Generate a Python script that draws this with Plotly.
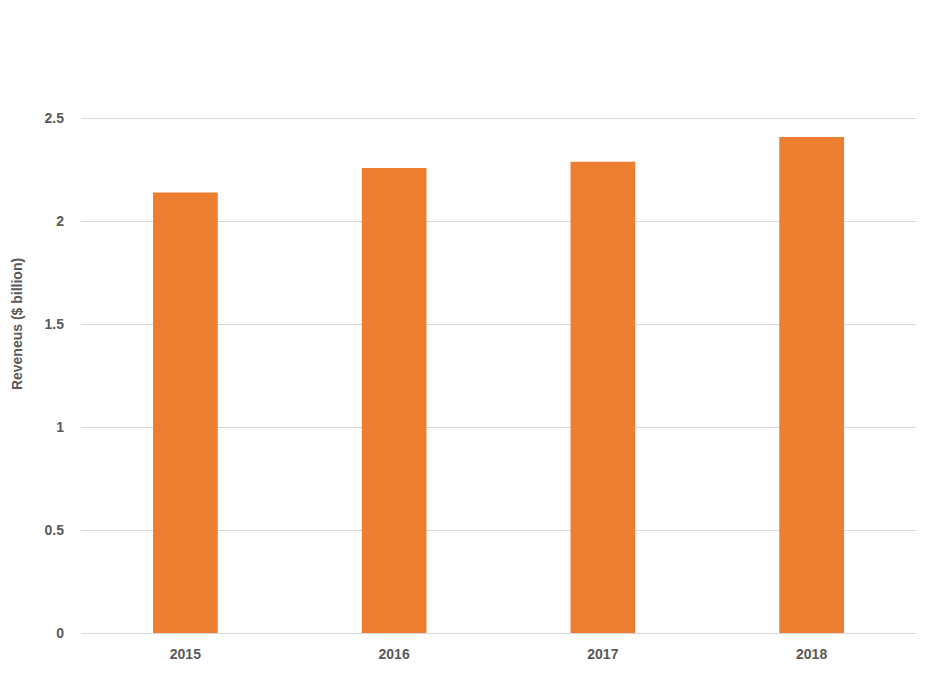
import plotly.graph_objects as go

years = ["2015", "2016", "2017", "2018"]
revenues = [2.14, 2.26, 2.29, 2.41]
y_ticks = [0, 0.5, 1, 1.5, 2, 2.5, 3]
y_labels = ["0", "0.5", "1", "1.5", "2", "2.5", "3"]

fig = go.Figure(go.Bar(x=years, y=revenues, marker_color="#ED7D31", marker_line_width=0))
tf = dict(family="Liberation Sans", size=14, color="#595959", weight="bold")
fig.update_layout(
    width=926, height=676,
    margin=dict(l=73, r=18, t=7, b=51),
    plot_bgcolor="white", paper_bgcolor="white",
    bargap=0.69, showlegend=False,
)
fig.update_xaxes(showline=True, linecolor="#D9D9D9", linewidth=1,
                 tickfont=tf, ticks="", ticklabelstandoff=8)
fig.update_yaxes(range=[0, 3.003], tickvals=y_ticks, ticktext=y_labels,
                 gridcolor="#D9D9D9", zeroline=False, showline=False,
                 tickfont=tf, ticklabelstandoff=16,
                 title=dict(text="Reveneus ($ billion)", standoff=18, font=tf))
fig.write_html("out.html")
